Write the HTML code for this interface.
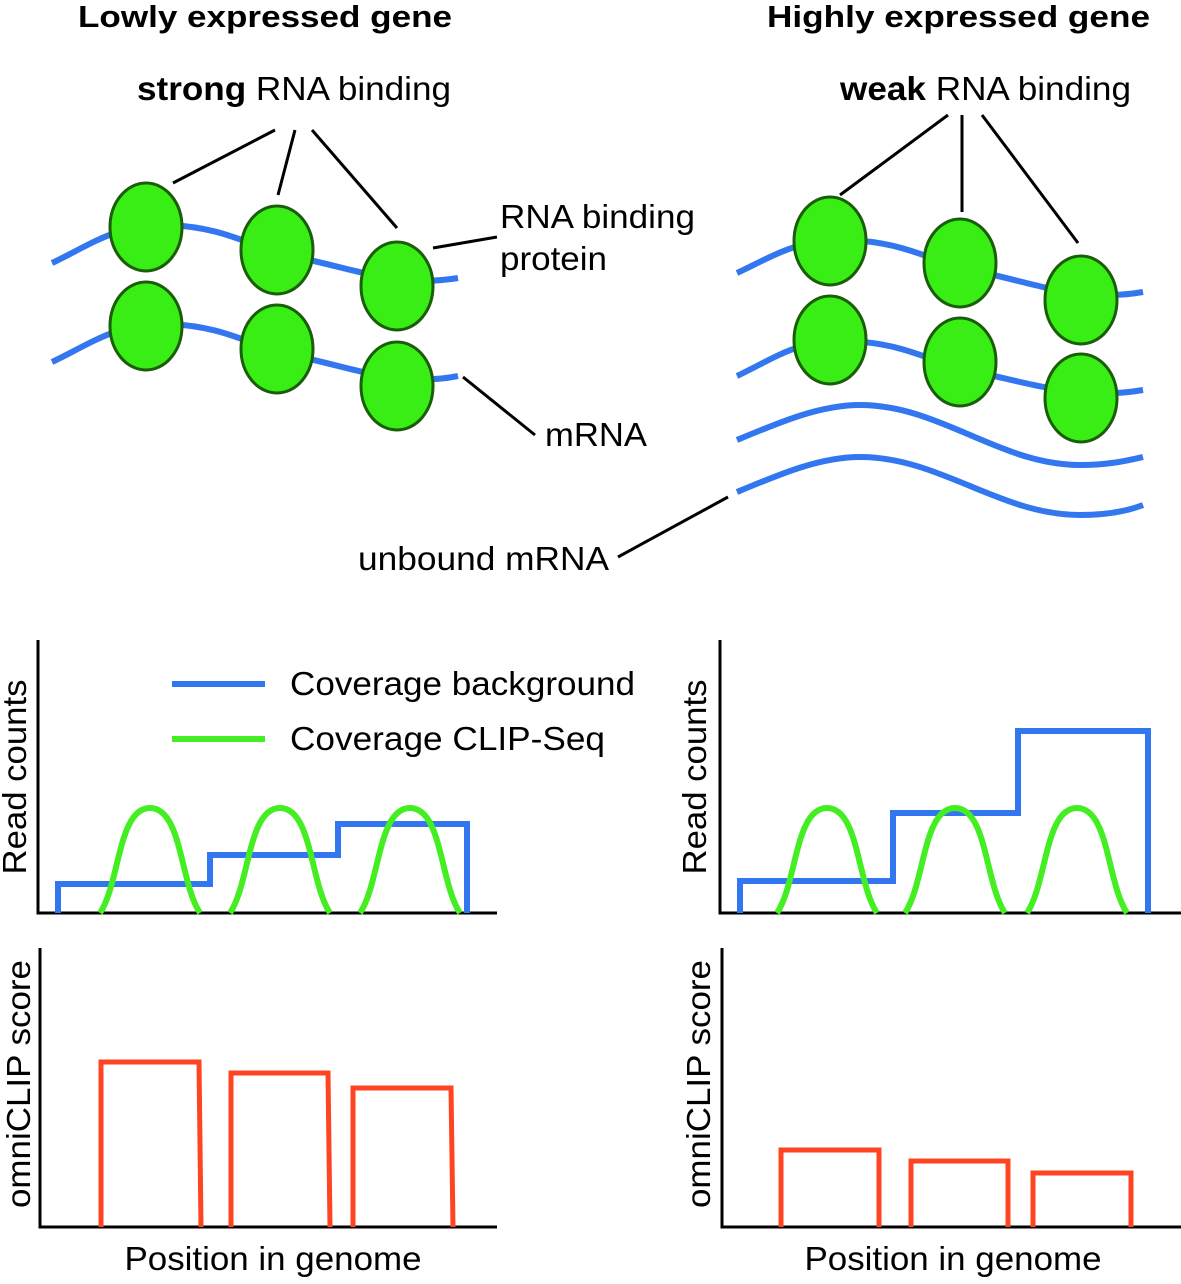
<!DOCTYPE html>
<html><head><meta charset="utf-8"><style>html,body{margin:0;padding:0;background:#fff}</style></head>
<body>
<svg width="1181" height="1279" viewBox="0 0 1181 1279" xmlns="http://www.w3.org/2000/svg" font-family="Liberation Sans, sans-serif">
<defs>
<path id="bump" d="M-50,0 C-30,-30 -32,-105 0,-105 C32,-105 30,-30 50,0" fill="none" stroke="#44ee22" stroke-width="6"/>
</defs>
<g font-size="31" font-weight="bold" fill="#000">
<text x="78" y="27" textLength="374" lengthAdjust="spacingAndGlyphs">Lowly expressed gene</text>
<text x="767" y="27" textLength="383" lengthAdjust="spacingAndGlyphs">Highly expressed gene</text>
</g>
<g font-size="33" fill="#000">
<text x="137" y="100" textLength="314" lengthAdjust="spacingAndGlyphs"><tspan font-weight="bold">strong</tspan> RNA binding</text>
<text x="840" y="100" textLength="291" lengthAdjust="spacingAndGlyphs"><tspan font-weight="bold">weak</tspan> RNA binding</text>
<text x="500" y="228" textLength="195" lengthAdjust="spacingAndGlyphs">RNA binding</text>
<text x="500" y="270" textLength="107" lengthAdjust="spacingAndGlyphs">protein</text>
<text x="545" y="446" textLength="102" lengthAdjust="spacingAndGlyphs">mRNA</text>
<text x="358" y="570" textLength="251" lengthAdjust="spacingAndGlyphs">unbound mRNA</text>
</g>
<g stroke="#000" stroke-width="3" fill="none">
<line x1="275" y1="130" x2="173" y2="183"/><line x1="295" y1="130" x2="278" y2="195"/><line x1="312" y1="130" x2="397" y2="228"/>
<line x1="433" y1="248" x2="497" y2="237"/><line x1="463" y1="377" x2="535" y2="435"/>
<line x1="948" y1="115" x2="840" y2="195"/><line x1="962" y1="115" x2="962" y2="212"/><line x1="982" y1="115" x2="1078" y2="243"/>
<line x1="618" y1="557" x2="728" y2="497"/>
</g>
<g stroke="#3377f0" stroke-width="6" fill="none">
<path d="M52,263 C90,245 120,222 170,225 C230,228 250,248 300,258 C350,268 400,288 458,278"/>
<path d="M52,362 C90,344 120,321 170,324 C230,327 250,347 300,357 C350,367 400,388 458,376"/>
<path d="M737,273 C775,255 800,238 850,240 C910,243 930,262 980,272 C1030,282 1080,303 1143,292"/>
<path d="M737,376 C775,358 800,338 850,341 C910,344 930,363 980,373 C1030,383 1080,401 1143,390"/>
<path d="M737,440 C780,422 820,405 860,405 C940,405 1000,465 1080,465 C1110,465 1130,460 1143,457"/>
<path d="M737,492 C780,474 820,457 860,457 C940,457 1000,515 1080,515 C1110,515 1130,510 1143,505"/>
</g>
<g fill="#38ee14" stroke="#1a5e0a" stroke-width="3">
<ellipse cx="146" cy="227" rx="36" ry="44"/><ellipse cx="277" cy="250" rx="36" ry="44"/><ellipse cx="397" cy="286" rx="36" ry="44"/>
<ellipse cx="146" cy="326" rx="36" ry="44"/><ellipse cx="277" cy="349" rx="36" ry="44"/><ellipse cx="397" cy="386" rx="36" ry="44"/>
<ellipse cx="830" cy="241" rx="36" ry="44"/><ellipse cx="960" cy="263" rx="36" ry="44"/><ellipse cx="1081" cy="300" rx="36" ry="44"/>
<ellipse cx="830" cy="340" rx="36" ry="44"/><ellipse cx="960" cy="362" rx="36" ry="44"/><ellipse cx="1081" cy="398" rx="36" ry="44"/>
</g>
<g stroke="#000" stroke-width="3" fill="none">
<path d="M38,640 V913 H497"/><path d="M720,640 V913 H1181"/>
<path d="M40,948 V1227 H497"/><path d="M722,948 V1227 H1181"/>
</g>
<g font-size="33" fill="#000" text-anchor="middle">
<text transform="translate(26,777) rotate(-90)" textLength="195" lengthAdjust="spacingAndGlyphs">Read counts</text>
<text transform="translate(706,777) rotate(-90)" textLength="195" lengthAdjust="spacingAndGlyphs">Read counts</text>
<text transform="translate(30,1084) rotate(-90)" textLength="248" lengthAdjust="spacingAndGlyphs">omniCLIP score</text>
<text transform="translate(710,1084) rotate(-90)" textLength="248" lengthAdjust="spacingAndGlyphs">omniCLIP score</text>
<text x="273" y="1270" textLength="297" lengthAdjust="spacingAndGlyphs">Position in genome</text>
<text x="953" y="1270" textLength="297" lengthAdjust="spacingAndGlyphs">Position in genome</text>
</g>
<g font-size="33" fill="#000"><text x="290" y="695" textLength="345" lengthAdjust="spacingAndGlyphs">Coverage background</text><text x="290" y="750" textLength="315" lengthAdjust="spacingAndGlyphs">Coverage CLIP-Seq</text></g>
<line x1="172" y1="684" x2="265" y2="684" stroke="#3377f0" stroke-width="6"/>
<line x1="172" y1="739" x2="265" y2="739" stroke="#44ee22" stroke-width="6"/>
<g stroke="#3377f0" stroke-width="6" fill="none">
<path d="M58,913 V884 H210 V855 H338 V824 H467 V913"/>
<path d="M740,913 V881 H893 V813 H1018 V731 H1148 V913"/>
</g>
<use href="#bump" x="150" y="913"/><use href="#bump" x="280" y="913"/><use href="#bump" x="410" y="913"/>
<use href="#bump" x="827" y="913"/><use href="#bump" x="955" y="913"/><use href="#bump" x="1077" y="913"/>
<g stroke="#ff4422" stroke-width="5" fill="none">
<path d="M101,1227 V1062 H199 L201,1227"/><path d="M231,1227 V1073 H328 L330,1227"/><path d="M353,1227 V1088 H451 L453,1227"/>
<path d="M781,1227 V1150 H879 V1227"/><path d="M911,1227 V1161 H1008 V1227"/><path d="M1033,1227 V1173 H1131 V1227"/>
</g>
</svg>
</body></html>
